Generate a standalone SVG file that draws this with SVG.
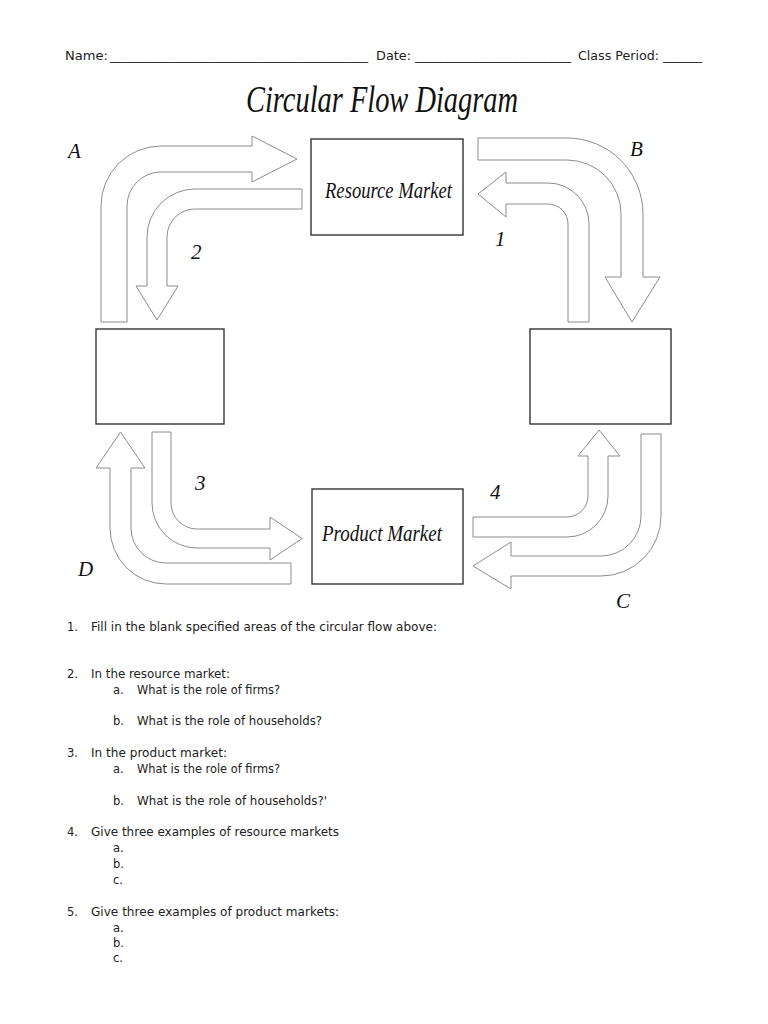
<svg xmlns="http://www.w3.org/2000/svg" width="768" height="1024" viewBox="0 0 768 1024">
<style>
.bg{fill:#ffffff}
.arrow{fill:#ffffff;stroke:#8c8c8c;stroke-width:1;stroke-linejoin:miter}
.box{fill:#ffffff;stroke:#333333;stroke-width:1.4}
.body{font-family:"DejaVu Sans","Liberation Sans",sans-serif;font-size:11.5px;fill:#222222}
.script{font-family:"Liberation Serif","DejaVu Serif",serif;font-style:italic;fill:#111111}
.title{font-size:38px}
.boxlbl{font-size:23px}
.lbl{font-size:21px}
</style>
<rect class="bg" x="0" y="0" width="768" height="1024"/>

<g id="header">
<text class="body" x="65" y="60" textLength="43" lengthAdjust="spacingAndGlyphs">Name:</text>
<text class="body" x="110" y="60" textLength="258" lengthAdjust="spacingAndGlyphs">____________________________________________</text>
<text class="body" x="376" y="60" textLength="35" lengthAdjust="spacingAndGlyphs">Date:</text>
<text class="body" x="415" y="60" textLength="156" lengthAdjust="spacingAndGlyphs">___________________________</text>
<text class="body" x="578" y="60" textLength="81" lengthAdjust="spacingAndGlyphs">Class Period:</text>
<text class="body" x="663" y="60" textLength="39" lengthAdjust="spacingAndGlyphs">______</text>
</g>

<g id="title">
<text class="script title" x="246" y="112" textLength="272" lengthAdjust="spacingAndGlyphs">Circular Flow Diagram</text>
</g>

<g id="connectors">
<path id="arrow-A" class="arrow" d="M101,322 L101,206 A60,60 0 0 1 161,146 L252,146 L252,136 L297,159 L252,182 L252,172 L161,172 A34,34 0 0 0 127,206 L127,322 Z"/>
<path id="arrow-2" class="arrow" d="M302,189 L195,189 A48,48 0 0 0 147,237 L147,286 L136,286 L157,320 L178,286 L167,286 L167,237 A28,28 0 0 1 195,209 L302,209 Z"/>
<path id="arrow-B" class="arrow" d="M478,138 L567,138 A76,76 0 0 1 643,214 L643,277 L660,277 L632,322 L605,277 L621,277 L621,214 A54,54 0 0 0 567,160 L478,160 Z"/>
<path id="arrow-1" class="arrow" d="M589,322 L589,224 A41,41 0 0 0 548,183 L506,183 L506,172 L478,194 L506,217 L506,204 L548,204 A20,20 0 0 1 568,224 L568,322 Z"/>
<path id="arrow-D" class="arrow" d="M291,584 L166,584 A56,56 0 0 1 110,528 L110,468 L96,468 L120.5,432 L145,468 L131,468 L131,528 A35,35 0 0 0 166,563 L291,563 Z"/>
<path id="arrow-3" class="arrow" d="M152,432 L152,503 A45,45 0 0 0 197,548 L270,548 L270,560 L302,538.5 L270,517 L270,529 L197,529 A26,26 0 0 1 171,503 L171,432 Z"/>
<path id="arrow-4" class="arrow" d="M473,517 L567,517 A21,21 0 0 0 588,496 L588,456 L578,456 L599,430 L620,456 L608,456 L608,496 A41,41 0 0 1 567,537 L473,537 Z"/>
<path id="arrow-C" class="arrow" d="M661,434 L661,516 A60,60 0 0 1 601,576 L511,576 L511,589 L473,566 L511,542 L511,556 L601,556 A40,40 0 0 0 641,516 L641,434 Z"/>
</g>

<g id="labels">
<text class="script lbl" x="68" y="158">A</text>
<text class="script lbl" x="630" y="156">B</text>
<text class="script lbl" x="616" y="608">C</text>
<text class="script lbl" x="78" y="576">D</text>
<text class="script lbl" x="495" y="246">1</text>
<text class="script lbl" x="191" y="259">2</text>
<text class="script lbl" x="195" y="490">3</text>
<text class="script lbl" x="490" y="499">4</text>
</g>

<g id="resource-market">
<rect class="box" x="311" y="139" width="152" height="96"/>
<text class="script boxlbl" x="325" y="198" textLength="127" lengthAdjust="spacingAndGlyphs">Resource Market</text>
</g>
<g id="product-market">
<rect class="box" x="312" y="489" width="151" height="95"/>
<text class="script boxlbl" x="322" y="541" textLength="120" lengthAdjust="spacingAndGlyphs">Product Market</text>
</g>
<g id="households-box">
<rect class="box" x="96" y="329" width="128" height="95"/>
</g>
<g id="firms-box">
<rect class="box" x="530" y="329" width="141" height="95"/>
</g>

<g id="questions">
<text class="body" x="67" y="631">1.</text>
<text class="body" x="91" y="631" textLength="346" lengthAdjust="spacingAndGlyphs">Fill in the blank specified areas of the circular flow above:</text>
<text class="body" x="67" y="678">2.</text>
<text class="body" x="91" y="678" textLength="139" lengthAdjust="spacingAndGlyphs">In the resource market:</text>
<text class="body" x="113" y="694">a.</text>
<text class="body" x="137" y="694" textLength="143" lengthAdjust="spacingAndGlyphs">What is the role of firms?</text>
<text class="body" x="113" y="725">b.</text>
<text class="body" x="137" y="725" textLength="185" lengthAdjust="spacingAndGlyphs">What is the role of households?</text>
<text class="body" x="67" y="757">3.</text>
<text class="body" x="91" y="757" textLength="136" lengthAdjust="spacingAndGlyphs">In the product market:</text>
<text class="body" x="113" y="773">a.</text>
<text class="body" x="137" y="773" textLength="143" lengthAdjust="spacingAndGlyphs">What is the role of firms?</text>
<text class="body" x="113" y="805">b.</text>
<text class="body" x="137" y="805" textLength="190" lengthAdjust="spacingAndGlyphs">What is the role of households?'</text>
<text class="body" x="67" y="836">4.</text>
<text class="body" x="91" y="836" textLength="248" lengthAdjust="spacingAndGlyphs">Give three examples of resource markets</text>
<text class="body" x="113" y="852">a.</text>
<text class="body" x="113" y="868">b.</text>
<text class="body" x="113" y="884">c.</text>
<text class="body" x="67" y="916">5.</text>
<text class="body" x="91" y="916" textLength="248" lengthAdjust="spacingAndGlyphs">Give three examples of product markets:</text>
<text class="body" x="113" y="932">a.</text>
<text class="body" x="113" y="947">b.</text>
<text class="body" x="113" y="962">c.</text>
</g>
</svg>
